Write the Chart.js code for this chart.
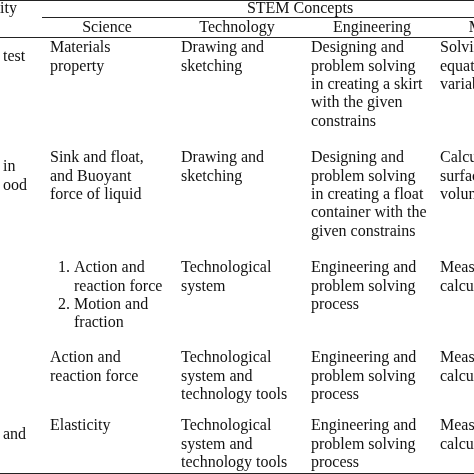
<!DOCTYPE html>
<html>
<head>
<meta charset="utf-8">
<script src="https://cdn.jsdelivr.net/npm/chart.js@4"></script>
<style>
  html, body { margin: 0; padding: 0; background: #fff; }
  #box { width: 474px; height: 474px; }
</style>
</head>
<body>
<div id="box"><canvas id="myChart"></canvas></div>
<script>
// table content
const headers = ['Science', 'Technology', 'Engineering', 'Mathematics'];
const activity = [['test'], ['in', 'ood'], [], [], ['and']];
const science = [
    ['Materials', 'property'],
    ['Sink and float,', 'and Buoyant', 'force of liquid'],
    ['  1. Action and', '      reaction force', '  2. Motion and', '      fraction'],
    ['Action and', 'reaction force'],
    ['Elasticity']
];
const technology = [
    ['Drawing and', 'sketching'],
    ['Drawing and', 'sketching'],
    ['Technological', 'system'],
    ['Technological', 'system and', 'technology tools'],
    ['Technological', 'system and', 'technology tools']
];
const engineering = [
    ['Designing and', 'problem solving', 'in creating a skirt', 'with the given', 'constrains'],
    ['Designing and', 'problem solving', 'in creating a float', 'container with the', 'given constrains'],
    ['Engineering and', 'problem solving', 'process'],
    ['Engineering and', 'problem solving', 'process'],
    ['Engineering and', 'problem solving', 'process']
];
const maths = [
    ['Solving', 'equations', 'variables'],
    ['Calculate', 'surface', 'volume'],
    ['Measure', 'calculate'],
    ['Measure', 'calculate'],
    ['Measure', 'calculate']
];
const rowTops = [40, 150, 260, 350, 418];

const colX = [3, 50, 181, 311, 440];
const headerX = [107, 237, 372, 510];
const lineH = 18.4;

const tablePlugin = {
    id: 'table',
    afterDraw(chart) {
        const ctx = chart.ctx;
        const sx = chart.scales.x, sy = chart.scales.y;
        ctx.save();
        ctx.fillStyle = '#111';
        ctx.strokeStyle = '#222';
        ctx.lineWidth = 1;
        ctx.font = '16px "Liberation Serif", serif';
        ctx.textBaseline = 'top';

        // rules
        const hline = (x0, x1, y) => {
            ctx.beginPath();
            ctx.moveTo(sx.getPixelForValue(x0), sy.getPixelForValue(y) + 0.5);
            ctx.lineTo(sx.getPixelForValue(x1), sy.getPixelForValue(y) + 0.5);
            ctx.stroke();
        };
        hline(0, 474, 0);
        hline(42, 474, 17);
        hline(0, 474, 37);
        hline(0, 474, 473);

        ctx.fillText('ity', sx.getPixelForValue(0), sy.getPixelForValue(1));
        ctx.textAlign = 'center';
        ctx.fillText('STEM Concepts', sx.getPixelForValue(300), sy.getPixelForValue(1));
        headers.forEach((h, i) => ctx.fillText(h, sx.getPixelForValue(headerX[i]), sy.getPixelForValue(20)));
        ctx.textAlign = 'left';

        const cols = [activity, science, technology, engineering, maths];
        cols.forEach((col, c) => {
            col.forEach((cell, r) => {
                const top = rowTops[r] + (c === 0 ? lineH / 2 : 0);
                cell.forEach((t, k) => {
                    ctx.fillText(t, sx.getPixelForValue(colX[c]), sy.getPixelForValue(top + k * lineH));
                });
            });
        });
        ctx.restore();
    }
};

new Chart(document.getElementById('myChart'), {
    type: 'scatter',
    data: { datasets: [{ data: [] }] },
    options: {
        responsive: true,
        maintainAspectRatio: false,
        animation: false,
        layout: { padding: 0 },
        plugins: { legend: { display: false }, tooltip: { enabled: false } },
        scales: {
            x: { type: 'linear', min: 0, max: 474, display: false },
            y: { type: 'linear', min: 0, max: 474, reverse: true, display: false }
        }
    },
    plugins: [tablePlugin]
});
</script>
</body>
</html>
